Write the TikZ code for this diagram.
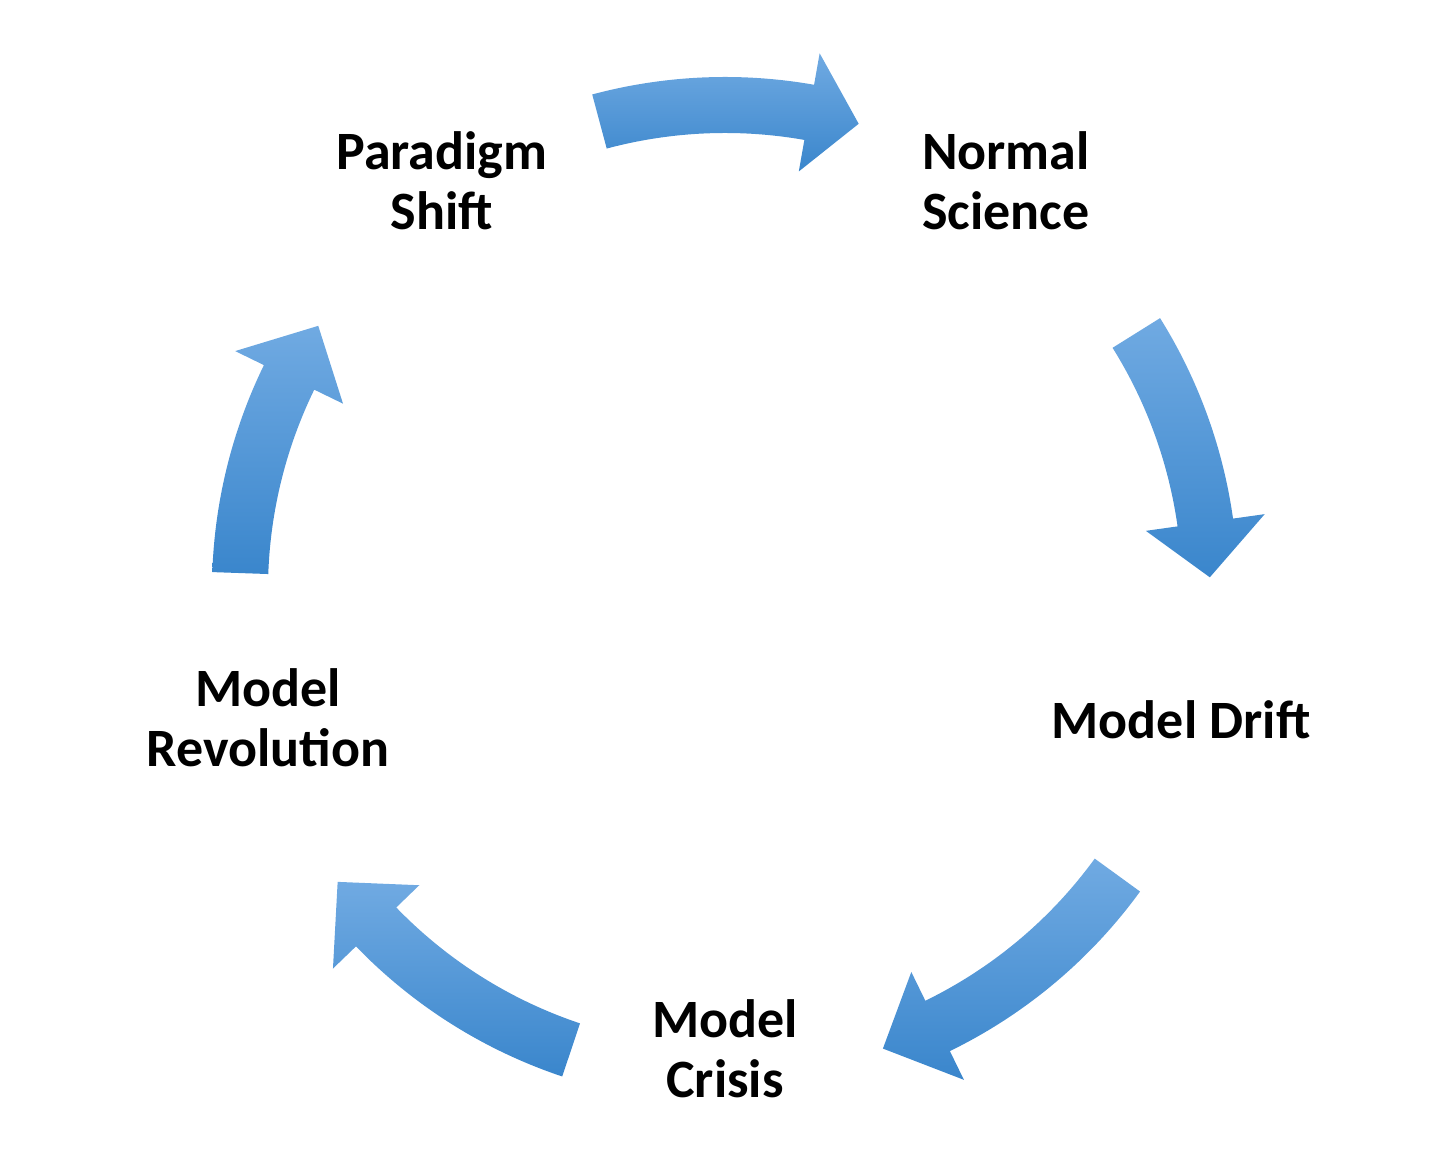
\documentclass[tikz,border=0pt]{standalone}
\usepackage{fontspec}
\setmainfont{Carlito}
\begin{document}
\begin{tikzpicture}[x=1pt,y=1pt,
  lbl/.style={font=\bfseries\fontsize{54}{60}\selectfont,align=center,text=black}]
\useasboundingbox (0,0) rectangle (1456,1173);
\newcommand\cycarrow[3]{%
  \shade[top color={rgb,255:red,112;green,170;blue,226}, bottom color={rgb,255:red,58;green,134;blue,204}]
   (#1:513) arc[start angle=#1,end angle=#2,radius=513] -- (#2:545) -- (#3:485)
   -- (#2:425) -- (#2:457) arc[start angle=#2,end angle=#1,radius=457] -- cycle;}
\begin{scope}[shift={(725,583)}]
\cycarrow{105}{80}{74}
\cycarrow{32}{8}{1.5}
\cycarrow{-36}{-64}{-71}
\cycarrow{-108.5}{-136}{-143}
\cycarrow{178}{154}{147}
\end{scope}
\node[lbl] (ns) at (1006,992) {Normal\\Science};
\node[lbl] (md) at (1181,453) {Model Drift};
\node[lbl] (mc) at (725,124) {Model\\Crisis};
\node[lbl] (mr) at (268,455) {Model\\Revolution};
\node[lbl] (ps) at (442,992) {Paradigm\\Shift};
\end{tikzpicture}
\end{document}
